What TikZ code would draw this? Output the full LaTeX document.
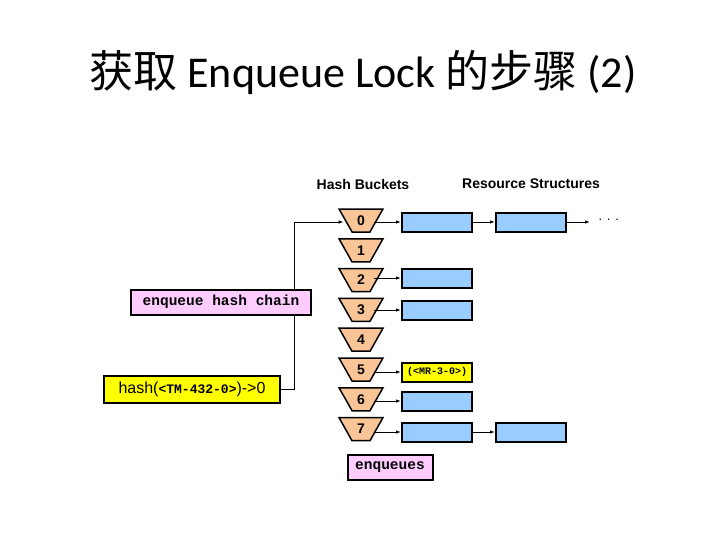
\documentclass[tikz,border=0pt]{standalone}
\usepackage{fontspec}
\setmainfont{Carlito}
\newfontfamily\cjk{Noto Sans CJK SC}
\newfontfamily\arl{Liberation Sans}
\newfontfamily\cour{Liberation Mono}
\usetikzlibrary{shapes.geometric,arrows.meta}
\definecolor{bk}{HTML}{F9C596}
\definecolor{bl}{HTML}{99CCFF}
\definecolor{pk}{HTML}{FFCCFF}
\definecolor{yl}{HTML}{FFFF00}
\begin{document}
\begin{tikzpicture}[x=1pt,y=-1pt,
 bucket/.style={trapezium,shape border rotate=180,trapezium stretches=true,minimum width=44,minimum height=23,fill=bk,draw=black,line width=1.5pt,inner sep=0pt,font=\arl\bfseries\fontsize{14}{14}\selectfont},
 res/.style={rectangle,minimum width=70,minimum height=19,fill=bl,draw=black,line width=2pt,inner sep=0pt,font=\cour\bfseries\fontsize{10}{10}\selectfont},
 lab/.style={rectangle,draw=black,line width=2pt,inner sep=0pt,font=\cour\bfseries\fontsize{14.5}{14.5}\selectfont},
 arr/.style={-{Latex[length=5pt,width=3.5pt]},line width=0.9pt},
 hdr/.style={font=\arl\bfseries\fontsize{14}{14}\selectfont}]
\useasboundingbox (0,0) rectangle (728,546);
\node[anchor=west,font=\fontsize{44}{44}\selectfont] (title) at (86,72) {{\cjk 获取} Enqueue Lock {\cjk 的步骤} (2)};
\node[hdr] (h1) at (363,184) {Hash Buckets};
\node[hdr] (h2) at (531,184) {Resource Structures};
\foreach \i in {0,...,7}{\node[bucket] (b\i) at (361,{220.5+29.8*\i}) {\i};}
\node[res] (r0a) at (437,222) {};
\node[res] (r0b) at (531,222) {};
\node[res] (r2) at (437,278) {};
\node[res] (r3) at (437,310) {};
\node[res,fill=yl] (r5) at (437,372) {(<MR-3-0>)};
\node[res] (r6) at (437,401) {};
\node[res] (r7a) at (437,432) {};
\node[res] (r7b) at (531,432) {};
\coordinate (dots) at (590,222);
\node[font=\arl\fontsize{13}{13}\selectfont,anchor=west] (dt) at (595,220) {. . .};
\draw[arr] ([xshift=-3pt]b0.east|-r0a.west) -- (r0a.west);
\draw[arr] (r0a.east) -- (r0b.west);
\draw[arr] (r0b.east) -- (dots);
\foreach \b/\r in {2/r2,3/r3,5/r5,6/r6}{\draw[arr] ([xshift=-3pt]b\b.east|-\r.west) -- (\r.west);}
\draw[arr] ([xshift=-3pt]b7.east|-r7a.west) -- (r7a.west);
\draw[arr] (r7a.east) -- (r7b.west);
\node[lab,fill=yl,minimum width=176,minimum height=27,font=\arl\fontsize{16}{16}\selectfont] (hash) at (192,389.5) {hash({\cour\bfseries\fontsize{13}{13}\selectfont<TM-432-0>})->0};
\coordinate (turn) at (294,222);
\draw[arr] (hash.east) -| (turn) -- ([xshift=-1pt]b0.west|-turn);
\node[lab,fill=pk,minimum width=180,minimum height=25] (chain) at (221,302) {enqueue hash chain};
\node[lab,fill=pk,minimum width=85,minimum height=25] (enq) at (390,467) {enqueues};
\end{tikzpicture}
\end{document}
